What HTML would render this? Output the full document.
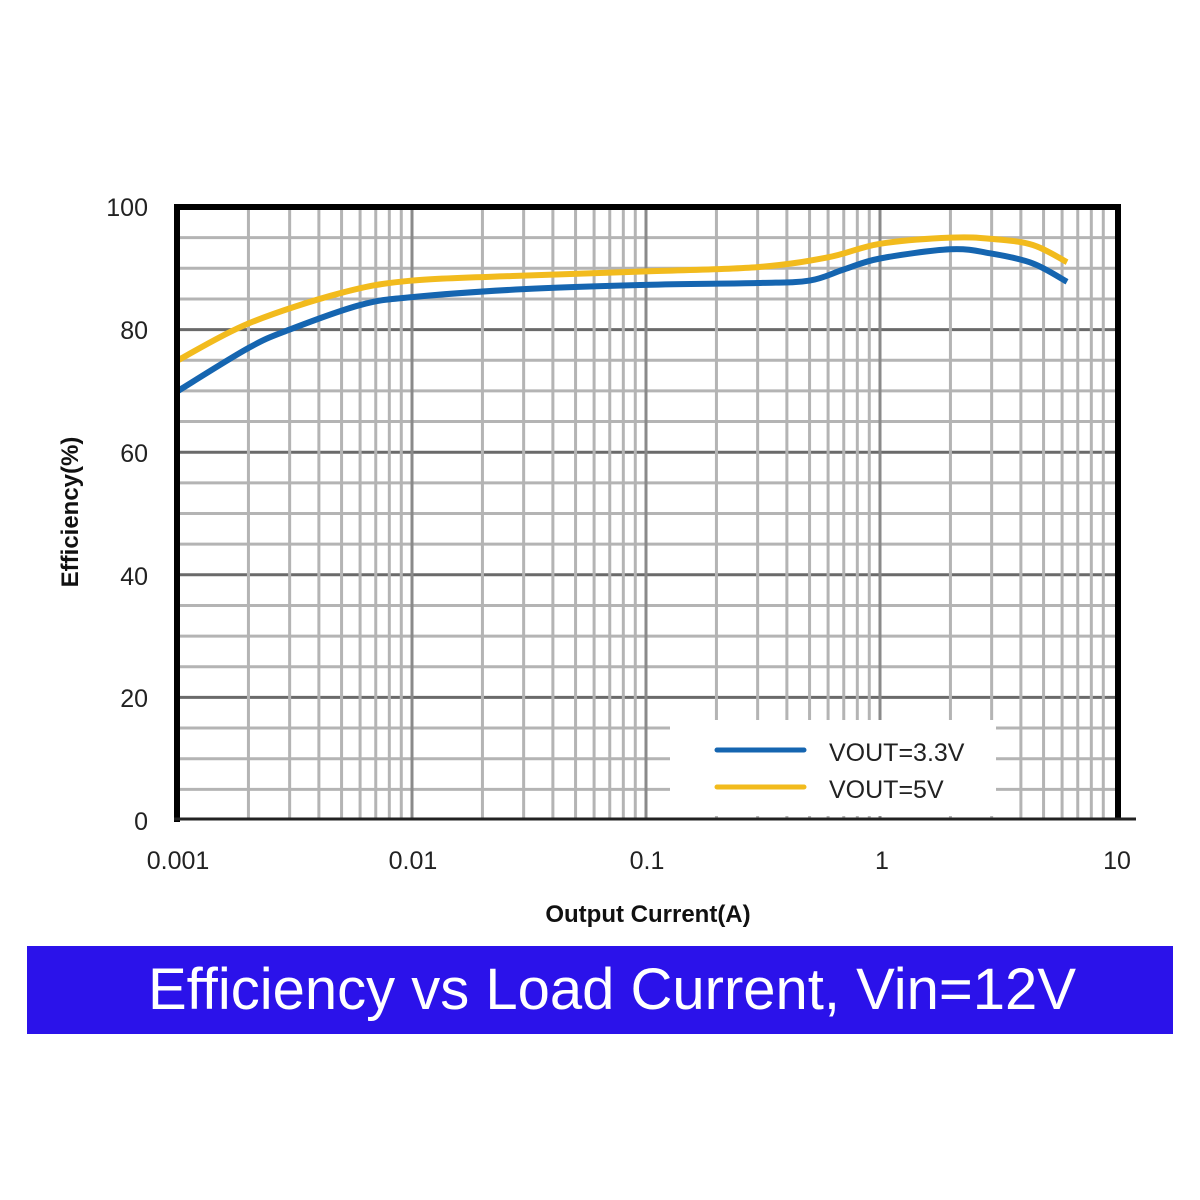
<!DOCTYPE html>
<html><head><meta charset="utf-8"><style>
html,body{margin:0;padding:0;background:#fff;width:1200px;height:1200px;overflow:hidden}
svg{display:block}
</style></head><body>
<svg id="s" width="1200" height="1200" xmlns="http://www.w3.org/2000/svg" font-family="Liberation Sans, sans-serif">
<rect width="1200" height="1200" fill="#fff"/>
<g id="grid"></g>
<rect x="670" y="720" width="326" height="96" fill="#fff"/>
<g id="curves"></g>
<line x1="177" y1="204" x2="177" y2="822" stroke="#000" stroke-width="6"/>
<line x1="174" y1="207" x2="1121" y2="207" stroke="#000" stroke-width="6"/>
<line x1="1118" y1="204" x2="1118" y2="818" stroke="#000" stroke-width="6"/>
<line x1="174" y1="819" x2="1136" y2="819" stroke="#222" stroke-width="3"/>
<g font-size="25" fill="#222" text-anchor="end">
<text x="148" y="216">100</text><text x="148" y="339">80</text><text x="148" y="462">60</text>
<text x="148" y="585">40</text><text x="148" y="707">20</text><text x="148" y="830">0</text>
</g>
<g font-size="25" fill="#222" text-anchor="middle">
<text x="178" y="869">0.001</text><text x="413" y="869">0.01</text><text x="647" y="869">0.1</text>
<text x="882" y="869">1</text><text x="1117" y="869">10</text>
</g>
<text x="648" y="922" font-size="24" font-weight="bold" text-anchor="middle" fill="#111">Output Current(A)</text>
<text transform="translate(78,512) rotate(-90)" font-size="24" font-weight="bold" text-anchor="middle" fill="#111">Efficiency(%)</text>
<line x1="717" y1="750" x2="804" y2="750" stroke="#1565b0" stroke-width="5" stroke-linecap="round"/>
<line x1="717" y1="787" x2="804" y2="787" stroke="#f2bb1d" stroke-width="5" stroke-linecap="round"/>
<text x="829" y="761" font-size="25" fill="#222">VOUT=3.3V</text>
<text x="829" y="798" font-size="25" fill="#222">VOUT=5V</text>
<rect x="27" y="946" width="1146" height="88" fill="#2b12ea"/>
<text x="612" y="1009" font-size="58" fill="#fff" text-anchor="middle">Efficiency vs Load Current, Vin=12V</text>
</svg>
<script>
function X(i){return 178+234*Math.log10(i/0.001);}
function Y(v){return 820-6.13*v;}
var g=document.getElementById('grid'),h='';
for(var v=5;v<100;v+=5){var maj=v%20==0;h+='<line x1="177" x2="1118" y1="'+Y(v)+'" y2="'+Y(v)+'" stroke="'+(maj?'#6a6a6a':'#b4b4b4')+'" stroke-width="3"/>';}
for(var d=0;d<4;d++){for(var m=1;m<=9;m++){var i=0.001*Math.pow(10,d)*m;var x=X(i);if(x<=180||x>1116)continue;
h+='<line y1="207" y2="818" x1="'+x+'" x2="'+x+'" stroke="'+(m==1?'#8a8a8a':'#b4b4b4')+'" stroke-width="3"/>';}}
g.innerHTML=h;
function path(pts){var p=pts.map(function(a){return [X(a[0]),Y(a[1])];});var s='M'+p[0][0]+','+p[0][1];
for(var k=0;k<p.length-1;k++){var p0=p[k-1]||p[k],p1=p[k],p2=p[k+1],p3=p[k+2]||p2;
s+=' C'+(p1[0]+(p2[0]-p0[0])/6)+','+(p1[1]+(p2[1]-p0[1])/6)+' '+(p2[0]-(p3[0]-p1[0])/6)+','+(p2[1]-(p3[1]-p1[1])/6)+' '+p2[0]+','+p2[1];}return s;}
var blue=[[0.001,70],[0.002,77],[0.003,80],[0.006,84],[0.01,85.3],[0.03,86.6],[0.1,87.3],[0.3,87.6],[0.5,88],[0.7,89.8],[1,91.6],[2,93.1],[3,92.4],[4.5,90.8],[6.3,87.8]];
var yel=[[0.001,75],[0.002,81],[0.005,86],[0.01,88],[0.03,88.8],[0.1,89.5],[0.3,90.2],[0.6,91.8],[1,94],[2,95],[3,94.8],[4.5,93.8],[6.3,91]];
document.getElementById('curves').innerHTML='<path d="'+path(yel)+'" fill="none" stroke="#f2bb1d" stroke-width="6"/><path d="'+path(blue)+'" fill="none" stroke="#1565b0" stroke-width="6"/>';
</script>
</body></html>
